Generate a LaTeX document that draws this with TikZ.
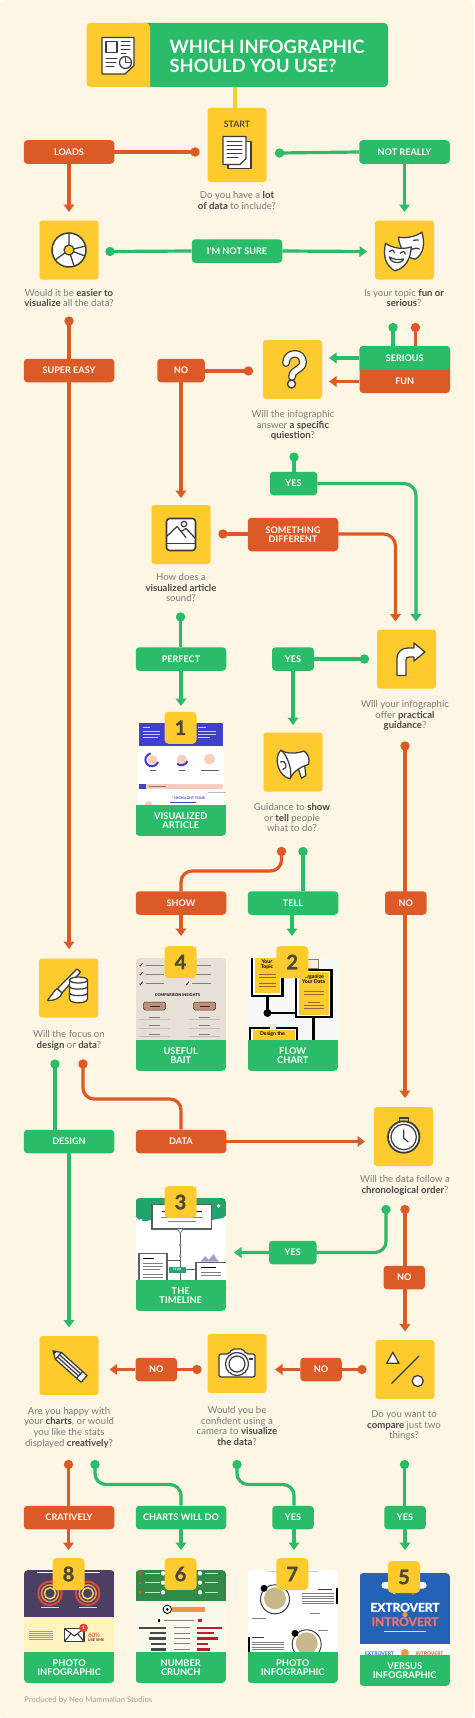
\documentclass[tikz,border=0pt]{standalone}
\usepackage{fontspec}
\setmainfont{Lato}
\newfontfamily\heavyfam[BoldFeatures={FakeBold=1.6}]{Lato}
\usetikzlibrary{arrows.meta,backgrounds}
\definecolor{cream}{HTML}{FEF6E4}
\definecolor{flowgreen}{HTML}{2ABC68}
\definecolor{floworange}{HTML}{DC5A27}
\definecolor{tileyellow}{HTML}{FECB2E}
\definecolor{ink}{HTML}{3D3D3D}
\definecolor{softtext}{HTML}{7C7C78}
\definecolor{strongtext}{HTML}{4A4A48}
\definecolor{badgeink}{HTML}{4F4A38}
\definecolor{articleblue}{HTML}{3F40CC}
\definecolor{paleblue}{HTML}{C9CBF2}
\definecolor{softpink}{HTML}{F8CDBE}
\definecolor{baitstone}{HTML}{E7E0D7}
\definecolor{baitbutton}{HTML}{BC9183}
\definecolor{timelinegreen}{HTML}{22A46C}
\definecolor{frame}{HTML}{5C5F63}
\definecolor{plum}{HTML}{4B3F63}
\definecolor{butter}{HTML}{FFF3BF}
\definecolor{ringred}{HTML}{D9483B}
\definecolor{ringorange}{HTML}{EE9A3A}
\definecolor{ringyellow}{HTML}{F6D35B}
\definecolor{pitchgreen}{HTML}{2F8B47}
\definecolor{paper}{HTML}{FBF8EC}
\definecolor{barred}{HTML}{B5202F}
\definecolor{bardark}{HTML}{45484C}
\definecolor{foodtan}{HTML}{C7B98E}
\definecolor{versusblue}{HTML}{2462B5}
\definecolor{coral}{HTML}{F0736A}
\newcommand{\kw}[1]{{\bfseries\color{strongtext}#1}}
\newcommand{\tb}[4]{\fill[#1] (#2,#3) rectangle (#4,#3+1.1);}
\newcommand{\cardframe}[5]{%
  \begin{scope}[shift={(#2,#3)}]
    \begin{scope}
      \clip[rounded corners=4pt] (0,0) rectangle (90.5,113);
      #5
      \fill[flowgreen] (0,82) rectangle (90.5,113);
    \end{scope}
    \node[captiontext] (#1) at (45.25,97.5) {#4};
  \end{scope}}
\tikzset{
  x=1pt,y=-1pt,
  tile/.style={rectangle,fill=tileyellow,rounded corners=3pt,minimum width=59pt,minimum height=59pt,inner sep=0},
  pillbase/.style={rectangle,rounded corners=3.5pt,minimum height=23.5pt,inner sep=0,text=white,align=center,font=\fontsize{9.1}{9.6}\selectfont\bfseries},
  gpill/.style={pillbase,fill=flowgreen},
  opill/.style={pillbase,fill=floworange},
  gdot/.style={circle,fill=flowgreen,minimum size=9.4pt,inner sep=0},
  odot/.style={circle,fill=floworange,minimum size=9.4pt,inner sep=0},
  question/.style={align=center,inner sep=0,text=softtext,font=\fontsize{9.6}{10.65}\selectfont},
  captiontext/.style={align=center,inner sep=0,text=white,font=\fontsize{9.3}{9.6}\selectfont\bfseries},
  badge/.style={rectangle,fill=tileyellow,rounded corners=4pt,minimum size=32pt,inner sep=0,text=badgeink,font=\heavyfam\fontsize{20}{20}\selectfont\bfseries},
  gline/.style={draw=flowgreen,line width=3.2pt},
  oline/.style={draw=floworange,line width=3.2pt},
  garrow/.style={gline,-{Triangle[width=10.5pt,length=7.5pt]}},
  oarrow/.style={oline,-{Triangle[width=10.5pt,length=7.5pt]}},
  icon/.style={draw=ink,line width=1.25pt,fill=white,line join=round,line cap=round},
  iconline/.style={draw=ink,line width=1.25pt,line cap=round,line join=round},
}
\begin{document}
\begin{tikzpicture}
\useasboundingbox (0,0) rectangle (474,1718);
\begin{scope}[on background layer]
  \fill[white] (0,0) rectangle (474,1718);
  \fill[cream,rounded corners=6pt] (0,0) rectangle (474,1718);
\end{scope}

% ---- title banner
\fill[flowgreen,rounded corners=4pt] (130,23) rectangle (388,87);
\fill[tileyellow] (150,87) [rounded corners=4pt] -- (86.5,87) -- (86.5,23) -- (150,23) [sharp corners] -- cycle;
\node[anchor=west,inner sep=0,align=left,text=white,font=\fontsize{18.3}{18.9}\selectfont\bfseries] (title) at (169.5,56) {WHICH INFOGRAPHIC\\SHOULD YOU USE?};
\fill[tileyellow] (233,87) rectangle (236.6,109);
\coordinate (titlemark) at (118,55.5);

% ---- question tiles
\node[tile,minimum height=74pt] (start) at (237,145) {};
\node[tile] (tpie) at (69,250) {};
\node[tile] (tmask) at (404.5,250) {};
\node[tile] (tquery) at (292.5,369.5) {};
\node[tile] (tpicture) at (181,534.5) {};
\node[tile] (tturn) at (406.5,659) {};
\node[tile] (tmega) at (293,762) {};
\node[tile] (tbrush) at (68.5,988) {};
\node[tile] (tclock) at (403.5,1136.5) {};
\node[tile] (tpercent) at (405,1369.5) {};
\node[tile] (tcamera) at (237,1363.5) {};
\node[tile] (tpencil) at (69,1365.5) {};

% ---- question wording
\node[font=\fontsize{8.8}{10}\selectfont\bfseries,text=badgeink,inner sep=0] (starttext) at (237,124) {START};
\node[question] (q1) at (237,200.5) {Do you have a \kw{lot}\\\kw{of data} to include?};
\node[question] (q2) at (69,298) {Would it be \kw{easier to}\\\kw{visualize} all the data?};
\node[question] (q3) at (404,298) {Is your topic \kw{fun or}\\\kw{serious}?};
\node[question] (q4) at (293,425.5) {Will the infographic\\answer \kw{a specific}\\\kw{quiestion}?};
\node[question] (q5) at (181,587.5) {How does a\\\kw{visualized article}\\sound?};
\node[question] (q6) at (405,715.5) {Will your infographic\\offer \kw{practical}\\\kw{guidance}?};
\node[question] (q7) at (292,817.5) {Guidance to \kw{show}\\or \kw{tell} people\\what to do?};
\node[question] (q8) at (69,1040.5) {Will the focus on\\\kw{design} or \kw{data}?};
\node[question] (q9) at (405,1185.5) {Will the data follow a\\\kw{chronological order}?};
\node[question] (q10) at (404,1425.5) {Do you want to\\\kw{compare} just two\\things?};
\node[question] (q11) at (237,1426) {Would you be\\confident using a\\camera to \kw{visualize}\\\kw{the data}?};
\node[question] (q12) at (69,1427.5) {Are you happy with\\your \kw{charts}, or would\\you like the stats\\displayed \kw{creatively}?};

% ---- answer labels
\node[opill,minimum width=90.5pt] (loads) at (69,152) {LOADS};
\node[gpill,minimum width=90.5pt] (notreally) at (404.5,152) {NOT REALLY};
\node[gpill,minimum width=90.5pt] (notsure) at (237,251) {I'M NOT SURE};
\node[opill,minimum width=90.5pt] (supereasy) at (69,370.5) {SUPER EASY};
\node[opill,minimum width=47.5pt] (noA) at (181,370.5) {NO};
\fill[floworange,rounded corners=3.5pt] (359.5,346) rectangle (450,393);
\fill[flowgreen] (359.5,370) [rounded corners=3.5pt] -- (359.5,346) -- (450,346) -- (450,370) [sharp corners] -- cycle;
\node[pillbase,minimum width=90.5pt] (serious) at (404.75,358) {SERIOUS};
\node[pillbase,minimum width=90.5pt] (fun) at (404.75,381.5) {FUN};
\node[gpill,minimum width=47.5pt] (yesA) at (293.5,483.5) {YES};
\node[opill,minimum width=90.5pt,minimum height=33.5pt] (different) at (293,534.5) {SOMETHING\\DIFFERENT};
\node[gpill,minimum width=90.5pt] (perfect) at (181,659) {PERFECT};
\node[gpill,minimum width=42pt] (yesB) at (293,659) {YES};
\node[opill,minimum width=90.5pt] (showlab) at (181,903) {SHOW};
\node[gpill,minimum width=90.5pt] (telllab) at (293,903) {TELL};
\node[opill,minimum width=41.5pt] (noB) at (405.75,903) {NO};
\node[gpill,minimum width=90.5pt] (design) at (69,1141.5) {DESIGN};
\node[opill,minimum width=90.5pt] (datalab) at (181,1141.5) {DATA};
\node[gpill,minimum width=47.5pt] (yesC) at (292.75,1252.5) {YES};
\node[opill,minimum width=41.5pt] (noC) at (404.25,1277.5) {NO};
\node[opill,minimum width=41.5pt] (noD) at (321,1369.5) {NO};
\node[opill,minimum width=41.5pt] (noE) at (156.25,1369.5) {NO};
\node[opill,minimum width=90.5pt] (cratively) at (69,1517.5) {CRATIVELY};
\node[gpill,minimum width=90.5pt] (chartslab) at (181,1517.5) {CHARTS WILL DO};
\node[gpill,minimum width=41.5pt] (yesD) at (293,1517.5) {YES};
\node[gpill,minimum width=41.5pt] (yesE) at (405,1517.5) {YES};

% ---- connector start dots
\node[odot] (dA) at (195,152) {};
\node[gdot] (dB) at (279.5,153) {};
\node[gdot] (dC) at (110,251.5) {};
\node[odot] (dD) at (69,321) {};
\node[gdot] (dE) at (393,327.5) {};
\node[odot] (dF) at (415.5,327.5) {};
\node[odot] (dG) at (248.5,371) {};
\node[gdot] (dH) at (294,457) {};
\node[odot] (dI) at (223,534) {};
\node[gdot] (dJ) at (180.5,617) {};
\node[gdot] (dK) at (364.5,659) {};
\node[odot] (dL) at (405,746) {};
\node[odot] (dM) at (281.5,851.5) {};
\node[gdot] (dN) at (303,851.5) {};
\node[gdot] (dO) at (55,1064) {};
\node[odot] (dP) at (83,1064) {};
\node[gdot] (dQ) at (386,1209.5) {};
\node[odot] (dR) at (405,1209.5) {};
\node[odot] (dS) at (362,1369.5) {};
\node[odot] (dT) at (197,1369.5) {};
\node[odot] (dU) at (68.5,1464.5) {};
\node[gdot] (dV) at (95,1464.5) {};
\node[gdot] (dW) at (237,1464.5) {};
\node[gdot] (dX) at (404.5,1464.5) {};

% ---- free connector ends and bends
\coordinate (e1) at (69,212);
\coordinate (e2) at (404.5,212);
\coordinate (e3) at (367,251.5);
\coordinate (e4) at (69,949);
\coordinate (e5) at (329,358);
\coordinate (e6) at (329,381.5);
\coordinate (e7) at (181,498);
\coordinate (e8) at (416,621.5);
\coordinate (e9) at (395.5,621.5);
\coordinate (e10) at (181,706);
\coordinate (e11) at (293,725);
\coordinate (e12) at (405,1098);
\coordinate (e13) at (181,936);
\coordinate (e14) at (292,936);
\coordinate (e15) at (69,1327.5);
\coordinate (e16) at (365,1141.5);
\coordinate (e17) at (234,1252.5);
\coordinate (e18) at (405,1331.5);
\coordinate (e19) at (275,1369.5);
\coordinate (e20) at (109.5,1369.5);
\coordinate (e21) at (68.5,1550);
\coordinate (e22) at (181,1550);
\coordinate (e23) at (294,1550);
\coordinate (e24) at (405,1550);
\coordinate (b1) at (0,871);
\coordinate (b2) at (0,1099);
\coordinate (b3) at (0,1484.5);

% ---- connectors, underneath everything else
\begin{scope}[on background layer]
  \draw[oline] (dA.center) -- (loads.east);
  \draw[oarrow] (loads.south) -- (e1);
  \draw[gline] (dB.center) -- (notreally.west);
  \draw[garrow] (notreally.south) -- (e2);
  \draw[gline] (dC.center) -- (notsure.west);
  \draw[garrow] (notsure.east) -- (e3);
  \draw[oarrow] (dD.center) -- (e4);
  \draw[gline] (dE.center) -- (dE |- serious.north);
  \draw[oline] (dF.center) -- (dF |- serious.north);
  \draw[garrow] (serious.west) -- (e5);
  \draw[oarrow] (fun.west) -- (e6);
  \draw[oline] (dG.center) -- (noA.east |- dG);
  \draw[oarrow] (noA.south) -- (e7);
  \draw[gline] (dH.center) -- (dH |- yesA.north);
  \draw[garrow,rounded corners=12pt] (yesA.east) -- (e8 |- yesA) -- (e8);
  \draw[oline] (dI.center) -- (different.west |- dI);
  \draw[oarrow,rounded corners=12pt] (different.east |- dI) -- (e9 |- dI) -- (e9);
  \draw[gline] (dJ.center) -- (dJ |- perfect.north);
  \draw[garrow] (perfect.south) -- (e10);
  \draw[gline] (dK.center) -- (yesB.east);
  \draw[garrow] (yesB.south) -- (e11);
  \draw[oarrow] (dL.center) -- (e12);
  \draw[oline,rounded corners=11pt] (dM.center) -- (dM |- b1) -- (showlab |- b1) -- (showlab.north);
  \draw[oarrow] (showlab.south) -- (e13);
  \draw[gline] (dN.center) -- (dN |- telllab.north);
  \draw[garrow] (telllab.south -| e14) -- (e14);
  \draw[gline] (dO.center) -- (dO |- design.north);
  \draw[garrow] (design.south) -- (e15);
  \draw[oline,rounded corners=11pt] (dP.center) -- (dP |- b2) -- (datalab |- b2) -- (datalab.north);
  \draw[oarrow] (datalab.east) -- (e16);
  \draw[garrow,rounded corners=11pt] (dQ.center) -- (dQ |- yesC) -- (e17);
  \draw[oline] (dR.center) -- (dR |- noC.north);
  \draw[oarrow] (noC.south -| e18) -- (e18);
  \draw[oline] (dS.center) -- (noD.east);
  \draw[oarrow] (noD.west) -- (e19);
  \draw[oline] (dT.center) -- (noE.east);
  \draw[oarrow] (noE.west) -- (e20);
  \draw[oarrow] (dU.center) -- (e21);
  \draw[gline,rounded corners=11pt] (dV.center) -- (dV |- b3) -- (chartslab |- b3) -- (chartslab.north);
  \draw[garrow] (chartslab.south) -- (e22);
  \draw[gline,rounded corners=11pt] (dW.center) -- (dW |- b3) -- (e23 |- b3) -- (e23 |- yesD.north);
  \draw[garrow] (yesD.south -| e23) -- (e23);
  \draw[gline] (dX.center) -- (dX |- yesE.north);
  \draw[garrow] (yesE.south) -- (e24);
\end{scope}

% ---- tile pictograms
% report sheet in the banner
\begin{scope}[shift={(118,55.5)}]
  \draw[icon] (-16,-18) -- (16,-18) -- (16,10) -- (7,18.5) -- (-16,18.5) -- cycle;
  \draw[iconline] (-12,-14) rectangle (-1,-3);
  \draw[iconline,line width=1pt] (3,-14) -- (12,-14) (3,-10) -- (12,-10) (3,-6) -- (12,-6) (3,-2) -- (8,-2)
     (-12,3) -- (-1,3) (-12,7) -- (-2,7) (-12,11) -- (-4,11);
  \draw[iconline] (7.5,7) circle (6);
  \draw[iconline] (7.5,7) -- (7.5,1) (7.5,7) -- (13,7);
\end{scope}
% stacked pages in the start tile
\begin{scope}[shift={(237,152.5)}]
  \draw[icon] (-9,-11) -- (14,-11) -- (14,16) -- (-9,16) -- cycle;
  \draw[icon] (-14,-16) -- (9,-16) -- (9,6) -- (3,12) -- (-14,12) -- cycle;
  \draw[iconline,line width=1pt] (-10,-11) -- (5,-11) (-10,-7) -- (5,-7) (-10,-3) -- (5,-3) (-10,1) -- (5,1) (-10,5) -- (1,5);
\end{scope}
% segmented ring
\begin{scope}[shift={(69,250)}]
  \draw[icon,line width=1.5pt] (0,0) circle (17);
  \draw[iconline] (0,0) -- (0,-17) (0,0) -- (17,-4) (0,0) -- (16,6) (0,0) -- (5,16) (0,0) -- (-14,10);
  \draw[iconline,fill=tileyellow] (0,0) circle (5);
\end{scope}
% theatre masks
\begin{scope}[shift={(412,243.5)},rotate=12]
  \draw[icon] (-12,-9) .. controls (-5,-6) and (5,-6) .. (12,-9) .. controls (13,3) and (9,13) .. (0,16) .. controls (-9,13) and (-13,3) .. (-12,-9) -- cycle;
  \draw[iconline] (2,-3) -- (7,-2);
  \draw[iconline] (-2,6) .. controls (0,5) and (4,5) .. (6,7);
\end{scope}
\begin{scope}[shift={(397,255)},rotate=-8]
  \draw[icon] (-13,-10) .. controls (-5,-6) and (5,-6) .. (13,-10) .. controls (14,3) and (10,12) .. (0,16) .. controls (-10,12) and (-14,3) .. (-13,-10) -- cycle;
  \draw[iconline] (-8,-2) .. controls (-6,-5) and (-4,-5) .. (-3,-2);
  \draw[iconline] (3,-2) .. controls (5,-5) and (7,-5) .. (8,-2);
  \draw[iconline,fill=white] (-7,3) .. controls (-3,5) and (3,5) .. (7,3) .. controls (6,9) and (-6,9) .. (-7,3) -- cycle;
\end{scope}
% question mark
\draw[draw=ink,line width=7.8pt,line cap=round,line join=round] (286,363) .. controls (286,351) and (303,351) .. (303,362) .. controls (303,370) and (292,369) .. (292,377);
\draw[draw=white,line width=5.2pt,line cap=round,line join=round] (286,363) .. controls (286,351) and (303,351) .. (303,362) .. controls (303,370) and (292,369) .. (292,377);
\draw[icon,line width=1.4pt] (291.5,384) circle (4);
% framed landscape
\begin{scope}[shift={(181,534.5)}]
  \draw[icon,rounded corners=3pt,line width=1.6pt] (-14.5,-16) rectangle (14.5,16);
  \draw[iconline] (-14.5,9) -- (14.5,9);
  \draw[iconline] (-14.5,2) -- (-4,-8) -- (5,3) (0,-3) -- (5,-6) -- (14.5,4);
  \draw[iconline] (3,-10.5) circle (2.7);
\end{scope}
% turn-right arrow
\draw[icon,line join=round] (397,675.5) -- (397,658) .. controls (397,652) and (402,648) .. (408,648) -- (414,648) -- (414,643) -- (425,652) -- (414,661) -- (414,657) -- (409,657) .. controls (407,657) and (406,658) .. (406,660) -- (406,675.5) -- cycle;
% megaphone
\begin{scope}[shift={(293,762)},rotate=18]
  \draw[icon] (3,7) -- (10,7) -- (8,17) -- (3,18) -- cycle;
  \draw[icon] (-8,-15) .. controls (-2,-8) and (8,-7) .. (14,-7) .. controls (17,-3) and (17,3) .. (14,7) .. controls (8,7) and (-2,8) .. (-8,15) -- cycle;
  \draw[icon] (-8,-15) .. controls (-18,-10) and (-18,10) .. (-8,15) .. controls (-3,10) and (-3,-10) .. (-8,-15) -- cycle;
  \draw[iconline] (-12,-4) .. controls (-6,-5) and (-6,5) .. (-12,4);
\end{scope}
% paintbrush and data stack
\draw[icon] (50,997) .. controls (53,994) and (54,990) .. (57.5,988.5) -- (62,993) .. controls (61,998) and (54,1001) .. (47.5,1000.5) -- cycle;
\draw[icon] (57.5,988.5) -- (77,969) -- (80.5,972) -- (62,993) -- cycle;
\begin{scope}[shift={(78.5,977)}]
  \draw[icon] (-9,3) -- (-9,22) .. controls (-9,27) and (9,27) .. (9,22) -- (9,3) -- cycle;
  \draw[icon] (0,3) ellipse (9 and 3);
  \draw[iconline] (-9,9.5) .. controls (-9,13) and (9,13) .. (9,9.5) (-9,16) .. controls (-9,19.5) and (9,19.5) .. (9,16);
\end{scope}
% stopwatch
\begin{scope}[shift={(403.7,1137)}]
  \draw[icon,fill=tileyellow] (-4.5,-19) rectangle (4.5,-15);
  \draw[icon,line width=1.8pt,fill=white] (0,0) circle (15.7);
  \draw[iconline] (0,0) circle (12.7);
  \draw[iconline] (0,-7) -- (0,1) -- (4.5,5);
\end{scope}
% percent-like compare symbol
\draw[icon] (392.8,1352.3) -- (399,1363.3) -- (386.7,1363.3) -- cycle;
\draw[iconline] (391.7,1383.3) -- (419,1356);
\draw[icon] (417.7,1381) circle (5.5);
% camera
\begin{scope}[shift={(237,1363)}]
  \draw[icon,rounded corners=2pt] (-18,-9) -- (-8,-9) -- (-5,-14) -- (6,-14) -- (9,-9) -- (18,-9) -- (18,14) -- (-18,14) -- cycle;
  \draw[icon] (0,1) circle (11.5);
  \draw[iconline] (0,1) circle (8);
  \fill[ink] (11.5,-5.5) rectangle (15.5,-3.5);
\end{scope}
% pencil
\begin{scope}[shift={(69.2,1365.5)},rotate=-42]
  \draw[icon] (-14.5,-4.5) -- (17,-4.5) -- (20,-4.5) -- (20,4.5) -- (-14.5,4.5) -- (-22,0) -- cycle;
  \draw[iconline] (14,-4.5) -- (14,4.5) (-14.5,-1.5) -- (14,-1.5) (-14.5,1.5) -- (14,1.5) (-14.5,-4.5) -- (-14.5,4.5);
  \fill[ink] (-22,0) -- (-18.5,-2) -- (-18.5,2) -- cycle;
\end{scope}

% ---- result cards
\cardframe{capA}{135.5}{723}{VISUALIZED\\ARTICLE}{
  \fill[white] (2,0) rectangle (88,82);
  \fill[articleblue] (3,0) rectangle (87,23);
  \tb{paleblue}{7}{4}{14}
  \tb{paleblue}{7}{8}{24}\tb{paleblue}{7}{11}{24}\tb{paleblue}{7}{14}{22}
  \tb{paleblue}{62}{4}{70}
  \tb{paleblue}{62}{8}{80}\tb{paleblue}{62}{11}{80}\tb{paleblue}{62}{14}{74}
  \fill[softpink] (17,37) circle (5);
  \draw[articleblue,line width=2pt] (22.5,39) arc (20:260:6.5);
  \fill[softpink] (46.5,36.5) circle (5);
  \draw[articleblue,line width=2pt] (52,38) arc (20:130:6.5);
  \fill[softpink] (74,36) circle (5.5);
  \tb{frame}{14}{47}{20}\tb{frame}{43}{47}{49}\tb{frame}{65}{47}{83}
  \fill[softpink] (10.5,61) rectangle (87,65.5);
  \fill[articleblue] (3,61) rectangle (10.5,65.5);
  \tb{gray}{13}{62.8}{30}
  \tb{gray!50}{72}{69}{90}
  \node[font=\fontsize{3.6}{4}\selectfont\bfseries,text=articleblue,inner sep=0] (hl) at (53,74.8) {* HIGHLIGHT YOUR};
  \tb{articleblue}{34}{79}{60}
  \fill[softpink] (13,82) circle (4);
}
\cardframe{capD}{135.5}{958}{USEFUL\\BAIT}{
  \fill[baitstone] (0,0) rectangle (90.5,82);
  \foreach \yy in {7,16,25.7} {
    \fill[white] (3.5,\yy-1.5) rectangle (6.5,\yy+1.5);
    \draw[red!50!black,line width=0.8pt] (4,\yy) -- (5,\yy+1) -- (7,\yy-2);
    \fill[gray] (10,\yy-0.4) rectangle (28,\yy+0.4);
    \fill[gray] (56,\yy-0.4) rectangle (75,\yy+0.4);
  }
  \fill[white] (49.8,24.2) rectangle (52.8,27.2);
  \draw[red!50!black,line width=0.8pt] (50.3,25.7) -- (51.3,26.7) -- (53.3,23.7);
  \node[font=\fontsize{3.9}{4}\selectfont\bfseries,text=black,inner sep=0] (insights) at (42,37) {COMPARISON INSIGHTS};
  \foreach \xx in {8,58} {
    \fill[baitbutton,rounded corners=1.5pt,draw=brown!40!black,line width=0.5pt] (\xx,44) rectangle (\xx+22,52);
    \fill[brown!30!black] (\xx+6,47.6) rectangle (\xx+16,48.4);
  }
  \foreach \xx in {3,53} {
    \foreach \yy in {60,68.5,77} {
      \fill[gray] (\xx+10,\yy-1.3) rectangle (\xx+21,\yy-0.6);
      \fill[gray!50] (\xx,\yy+1) rectangle (\xx+31,\yy+1.4);
    }
  }
}
\cardframe{capB}{247.5}{958}{FLOW\\CHART}{
  \fill[gray!6] (0,0) rectangle (90.5,82);
  \fill[black] (18.5,35) rectangle (21.5,58);
  \fill[black] (20,53.5) rectangle (48,56);
  \fill[black] (64.5,58) rectangle (67.5,82);
  \fill[white] (3.5,0) rectangle (36,38.7);
  \draw[black,line width=2.2pt] (4.5,-2) -- (4.5,37.6) -- (35,37.6) -- (35,-2);
  \fill[tileyellow] (7,0) rectangle (32.5,34.5);
  \node[font=\fontsize{5.2}{5.4}\selectfont\bfseries,align=center,text=black,inner sep=0] (ftopic) at (19.5,6.5) {Your\\Topic};
  \tb{brown!80!black}{11}{16}{28}\tb{brown!80!black}{11}{19}{28}\tb{brown!80!black}{11}{25}{28}\tb{brown!80!black}{11}{28}{28}
  \fill[black] (20,55) circle (4);
  \fill[white] (47.5,10.5) rectangle (85,60);
  \draw[black,line width=2.2pt] (48.6,11.6) rectangle (83.9,58.9);
  \fill[tileyellow] (51,14) rectangle (81.5,56.5);
  \node[font=\fontsize{5.2}{5.4}\selectfont\bfseries,align=center,text=black,inner sep=0] (fdata) at (66,21) {Organize\\Your Data};
  \tb{brown!80!black}{56}{33}{76}\tb{brown!80!black}{56}{36}{76}\tb{brown!80!black}{60}{44}{72}\tb{brown!80!black}{56}{47}{76}\tb{brown!80!black}{56}{50}{76}
  \fill[orange!15!white,draw=gray,line width=0.4pt] (55,1) rectangle (71,10);
  \fill[white] (1.5,68.7) rectangle (50.5,84);
  \draw[black,line width=2.2pt] (2.6,84) -- (2.6,69.8) -- (49.4,69.8) -- (49.4,84);
  \fill[tileyellow] (5,72) rectangle (47,84);
  \node[font=\fontsize{5.2}{5.4}\selectfont\bfseries,text=black,inner sep=0] (fdesign) at (25,76.5) {Design the};
  \fill[white!80!brown] (22,66) rectangle (28,72);
}
\cardframe{capC}{135.5}{1198}{THE\\TIMELINE}{
  \fill[white] (0,0) rectangle (90.5,82);
  \fill[timelinegreen] (0,0) rectangle (90.5,18);
  \fill[timelinegreen] (0,18) .. controls (3,24) and (10,24) .. (15,22) -- (77,22) .. controls (82,20) and (88,22) .. (90.5,17) -- cycle;
  \fill[white] (5.5,22) circle (1.3);
  \fill[white] (83,8) circle (1.8);
  \fill[frame] (44,32) rectangle (45.5,82);
  \draw[draw=frame,fill=white,line width=1.6pt] (16.5,6.5) rectangle (76,31);
  \tb{black}{26}{13}{66}
  \tb{gray}{25}{19}{67}\tb{gray}{32}{22.5}{60}
  \fill[white,draw=frame,line width=0.5pt] (41.5,31) -- (48,31) -- (44.75,35) -- cycle;
  \draw[draw=frame,fill=white,line width=1.5pt] (3.3,55.5) rectangle (31.5,90);
  \tb{black}{7}{60}{18}\tb{gray}{7}{65}{27}\tb{gray}{7}{68}{27}\tb{gray}{7}{71}{24}\tb{gray}{7}{76}{27}\tb{gray}{7}{79}{27}
  \draw[draw=frame,line width=0.9pt] (31.5,62) -- (44.75,62);
  \draw[draw=frame,fill=white,line width=1.5pt] (60.7,64.5) rectangle (92,90);
  \tb{black}{65}{69}{80}\tb{gray}{65}{74}{85}\tb{gray}{65}{77}{85}
  \draw[draw=frame,line width=0.9pt] (50,71.7) -- (60.7,71.7);
  \fill[blue!25!gray!60!white] (65,63.5) -- (70,58) -- (73,62) -- (78,56) -- (83,63.5) -- cycle;
  \fill[timelinegreen] (33,68.7) rectangle (50,74.7);
  \node[font=\fontsize{3.2}{4}\selectfont\bfseries,text=white,inner sep=0] (tyear) at (41.5,71.7) {YEAR};
  \draw[fill=white,draw=frame,line width=0.4pt] (44.75,47) circle (1.2) (44.75,58) circle (1.2);
}
\cardframe{capH}{24}{1570}{PHOTO\\INFOGRAPHIC}{
  \fill[plum] (0,0) rectangle (90.5,47);
  \fill[butter] (0,47) rectangle (90.5,82);
  \foreach \cx in {26,63.7} {
    \draw[ringred,line width=2pt] (\cx,23.3) circle (11.8);
    \draw[ringorange,line width=1.5pt] (\cx,23.3) circle (8.5);
    \draw[ringyellow,line width=1.5pt] (\cx,23.3) circle (5.6);
    \tb{white!70!gray}{\cx-9}{37}{\cx+9}
  }
  \tb{white}{13}{2}{30}\tb{white}{60}{2}{76}
  \foreach \yy in {61,63,65,67,69} {\tb{gray!80}{4.5}{\yy}{29}}
  \draw[fill=white,draw=ink,line width=1.2pt] (40.5,58.5) rectangle (60,71.5);
  \draw[ink,line width=1.1pt] (40.5,58.5) -- (50.25,66) -- (60,58.5) (40.5,71.5) -- (47,63.5) (60,71.5) -- (53.5,63.5);
  \fill[ringred] (59.5,58) circle (4.4);
  \node[font=\fontsize{4.5}{5}\selectfont\bfseries,text=white,inner sep=0] (nmail) at (59.5,58) {1};
  \node[font=\fontsize{6}{6}\selectfont\bfseries,text=floworange,inner sep=0] (pct) at (70,65) {60\%};
  \node[font=\fontsize{3.9}{4}\selectfont\bfseries,text=ink,inner sep=0] (sms) at (72,70.5) {USE SMS};
}
\cardframe{capF}{135.5}{1570}{NUMBER\\CRUNCH}{
  \fill[paper] (0,0) rectangle (90.5,82);
  \fill[pitchgreen] (0,0) rectangle (90.5,30.7);
  \foreach \yy in {3.3,12.7,22.3} {
    \fill[white] (27.5,\yy) circle (2.2);
    \fill[white] (64.5,\yy) circle (2.2);
    \tb{white!70!green}{9}{\yy-0.5}{24}
    \tb{white!70!green}{69}{\yy-0.5}{82}
    \fill[orange!60!red] (3,\yy-1.2) rectangle (5.5,\yy+1.2);
  }
  \fill[ringorange] (36,37.3) rectangle (69,42);
  \draw[fill=white,draw=black,line width=0.9pt] (31.8,39.3) circle (4.2);
  \fill[black] (31.8,39.3) circle (1.5);
  \fill[black] (22,49) rectangle (24,52);\fill[barred] (62,49) rectangle (66,52);
  \tb{gray}{28}{50}{58}
  \foreach \ly/\lx/\rx in {57.7/3.5/86.8,63/14.7/78.8,68.3/13/82.8,73.7/15.6/72.8,79.3/15.6/74.5} {
    \fill[bardark] (\lx,\ly-1.2) rectangle (30,\ly+1.2);
    \fill[barred] (61.8,\ly-1.2) rectangle (\rx,\ly+1.2);
    \fill[gray] (38,\ly-0.5) rectangle (54,\ly+0.5);
  }
}
\cardframe{capG}{247.5}{1570}{PHOTO\\INFOGRAPHIC}{
  \fill[white] (0,0) rectangle (90.5,82);
  \tb{gray!40}{20}{1}{70}
  \foreach \cx/\cy/\sx/\sy in {27.5/29.3/16.5/18.3,59.2/74.3/47.5/63.3} {
    \draw[fill=white,draw=ink,line width=1pt] (\cx,\cy) circle (14.5);
    \fill[foodtan] (\cx,\cy-1) circle (11);
    \fill[black] (\sx,\sy) circle (3.5);
  }
  \fill[black] (88.5,18.3) rectangle (90.5,34);
  \fill[black] (0,66.7) rectangle (2,82);
  \tb{ink}{70}{19}{84}
  \foreach \yy in {23,25.5,28,30.5,33} {\tb{gray}{54}{\yy}{86}}
  \tb{gray}{62}{43}{72}\tb{gray}{4}{48}{18}\tb{gray}{70}{60}{80}
  \tb{ink}{4}{67}{16}
  \foreach \yy in {71.5,74,76.5,79} {\tb{gray}{4}{\yy}{36}}
}
\cardframe{capE}{359.5}{1573}{VERSUS\\INFOGRAPHIC}{
  \fill[white] (0,0) rectangle (90.5,82);
  \fill[versusblue] (0,0) rectangle (90.5,71);
  \fill[white,rounded corners=3pt] (22,9) rectangle (67,15.5);
  \fill[white] (33,17) -- (36,21) -- (34,21) -- cycle;
  \fill[floworange] (52,17) rectangle (54,22);
  \node[font=\heavyfam\fontsize{12}{13}\selectfont\bfseries,text=white,inner sep=0] (vextro) at (45.5,34.3) {EXTROVERT};
  \node[font=\heavyfam\fontsize{12}{13}\selectfont\bfseries,text=coral,inner sep=0] (vintro) at (45.5,48.7) {INTROVERT};
  \fill[ringorange] (45.5,41.5) circle (2.6);
  \tb{white!85!blue}{24}{58}{66}
  \node[font=\fontsize{5}{5}\selectfont\bfseries,text=versusblue,inner sep=0] (vsmall) at (20,80.5) {EXTROVERT};
  \fill[ringorange] (45.5,80) circle (4);
  \node[font=\fontsize{5}{5}\selectfont\bfseries,text=floworange,inner sep=0] (vsmallb) at (70,80.5) {INTROVERT};
}

% ---- numbered badges
\node[badge] (n1) at (180.5,727.75) {1};
\node[badge] (n4) at (180.5,962) {4};
\node[badge] (n2) at (292.25,962) {2};
\node[badge] (n3) at (180.5,1202) {3};
\node[badge] (n8) at (68.5,1574) {8};
\node[badge] (n6) at (180.5,1574) {6};
\node[badge] (n7) at (292.25,1574) {7};
\node[badge] (n5) at (404,1577) {5};

\node[anchor=west,inner sep=0,text=softtext!70!cream,font=\fontsize{7.8}{8}\selectfont] (credit) at (24,1700) {Produced by Neo Mammalian Studios};
\end{tikzpicture}
\end{document}
